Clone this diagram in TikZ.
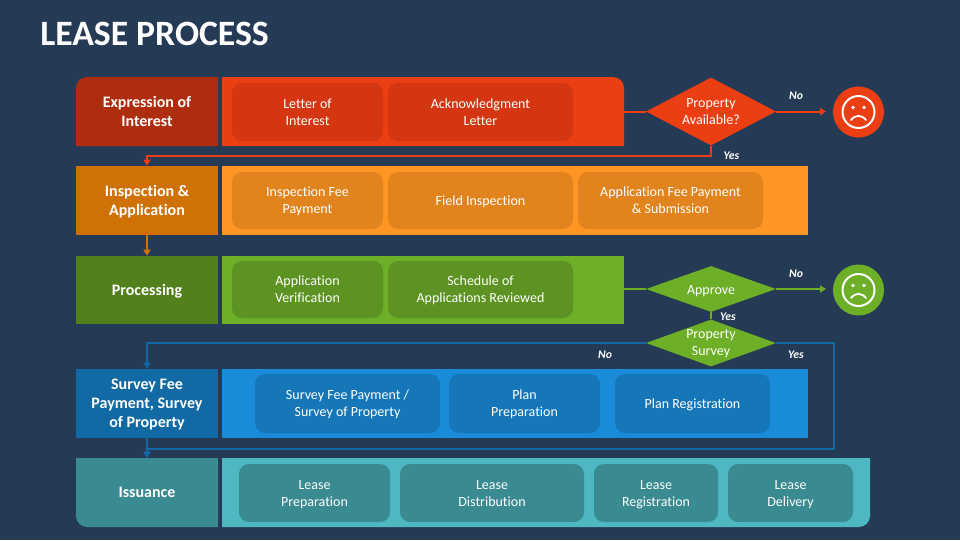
\documentclass[tikz,border=0pt]{standalone}
\usepackage{fontspec}
\setmainfont{Carlito}[Ligatures=NoCommon]
\usetikzlibrary{positioning,calc,arrows.meta,shapes.geometric}
\newdimen\unitpx
\unitpx=0.75pt
\definecolor{bgnavy}{HTML}{253A54}
\definecolor{redmain}{HTML}{EC3E13}
\definecolor{reddark}{HTML}{AE2D0E}
\definecolor{redin}{HTML}{D43611}
\definecolor{orgmain}{HTML}{FF9623}
\definecolor{orgdark}{HTML}{D07105}
\definecolor{orgin}{HTML}{E2841E}
\definecolor{grnmain}{HTML}{6DAF26}
\definecolor{grndark}{HTML}{52801C}
\definecolor{grnin}{HTML}{5C9322}
\definecolor{blumain}{HTML}{1A8BD8}
\definecolor{bludark}{HTML}{116AA3}
\definecolor{bluin}{HTML}{1577B8}
\definecolor{teamain}{HTML}{4DB8C2}
\definecolor{teadark}{HTML}{398A91}
\tikzset{
  manyline/.style={text depth=-0.8pt},
  lowline/.style={text depth=-2.3pt},
  oneline/.style={text height=10pt, text depth=3pt},
  head/.style={text=white, align=center, inner sep=0pt, minimum width=142\unitpx, minimum height=69\unitpx,
    font=\fontsize{12}{14.25}\selectfont\bfseries},
  inbox/.style={fill=#1, text=white, align=center, rounded corners=10\unitpx, inner sep=0pt,
    font=\fontsize{10.5}{12.75}\selectfont},
  decide/.style={diamond, aspect=1.9, fill=#1, text=white, align=center, inner sep=-8pt,
    minimum width=130\unitpx, font=\fontsize{10.5}{12.75}\selectfont},
  link/.style={draw=#1, line width=2\unitpx},
  arrowlink/.style={link=#1, -{Triangle[length=4.5pt,width=5.25pt]}},
  note/.style={text=white, inner sep=0pt, font=\fontsize{8.8}{10}\selectfont\bfseries\itshape},
  face/.style={circle, fill=#1, minimum size=51\unitpx, inner sep=0pt},
}
\newcommand{\sadface}[1]{%
  \draw[white, line width=2\unitpx] (#1) circle[radius=16];
  \fill[white] ($(#1)+(-5.5,-4.5)$) circle[radius=1.8];
  \fill[white] ($(#1)+(5.5,-4.5)$) circle[radius=1.8];
  \draw[white, line width=1.8\unitpx, line cap=round] ($(#1)+(-7.5,8)$) .. controls ($(#1)+(-3,2.5)$) and ($(#1)+(3,2.5)$) .. ($(#1)+(7.5,8)$);
}

\begin{document}
\begin{tikzpicture}[x=0.75pt, y=-0.75pt]
	\fill[bgnavy] (0,0) rectangle (960,540);
	\useasboundingbox (0,0) rectangle (960,540);

	\node[text=white, inner sep=0pt, anchor=west, font=\fontsize{26.75}{32}\selectfont\bfseries] (title) at (40,34) {LEASE PROCESS};

	% row bars
	\fill[reddark] (218,146) -- (76,146) -- (76,88) .. controls (76,82) and (81,77) .. (87,77) -- (218,77) -- cycle;
	\fill[redmain] (222,77) -- (613,77) .. controls (619,77) and (624,82) .. (624,88) -- (624,146) -- (222,146) -- cycle;
	\fill[orgdark] (76,166) rectangle (218,235);
	\fill[orgmain] (222,166) rectangle (808,235);
	\fill[grndark] (76,256) rectangle (218,324);
	\fill[grnmain] (222,256) rectangle (624,324);
	\fill[bludark] (76,369) rectangle (218,438);
	\fill[blumain] (222,369) rectangle (808,438);
	\fill[teadark] (218,458) -- (76,458) -- (76,516) .. controls (76,522) and (81,527) .. (87,527) -- (218,527) -- cycle;
	\fill[teamain] (222,527) -- (859,527) .. controls (865,527) and (870,522) .. (870,516) -- (870,458) -- (222,458) -- cycle;

	\node[head, manyline] (expr) at (147,111.5) {Expression of\\Interest};
	\node[head, manyline] (insp) at (147,200.5) {Inspection \&\\Application};
	\node[head, oneline, text height=11pt, minimum height=68\unitpx] (proc) at (147,290) {Processing};
	\node[head, lowline] (surv) at (147,403.5) {Survey Fee\\Payment, Survey\\of Property};
	\node[head, oneline] (issu) at (147,492.5) {Issuance};

	% boxes inside the bars
	\node[inbox=redin, manyline, minimum width=151\unitpx, minimum height=58\unitpx] (letter) at (307.5,112) {Letter of\\Interest};
	\node[inbox=redin, manyline, minimum width=185\unitpx, minimum height=58\unitpx] (ack) at (480.5,112) {Acknowledgment\\Letter};

	\node[inbox=orgin, manyline, minimum width=151\unitpx, minimum height=57\unitpx] (fee) at (307.5,200.5) {Inspection Fee\\Payment};
	\node[inbox=orgin, oneline, minimum width=185\unitpx, minimum height=57\unitpx] (field) at (480.5,200.5) {Field Inspection};
	\node[inbox=orgin, manyline, minimum width=185\unitpx, minimum height=57\unitpx] (appfee) at (670.5,200.5) {Application Fee Payment\\\& Submission};

	\node[inbox=grnin, lowline, minimum width=151\unitpx, minimum height=57\unitpx] (verif) at (307.5,289.5) {Application\\Verification};
	\node[inbox=grnin, lowline, minimum width=185\unitpx, minimum height=57\unitpx] (sched) at (480.5,289.5) {Schedule of\\Applications Reviewed};

	\node[inbox=bluin, lowline, minimum width=185\unitpx, minimum height=59\unitpx] (sfee) at (347.5,403.5) {Survey Fee Payment /\\Survey of Property};
	\node[inbox=bluin, lowline, minimum width=151\unitpx, minimum height=59\unitpx] (plan) at (524.5,403.5) {Plan\\Preparation};
	\node[inbox=bluin, oneline, minimum width=155\unitpx, minimum height=59\unitpx] (planreg) at (692.5,403.5) {Plan Registration};

	\node[inbox=teadark, manyline, minimum width=151\unitpx, minimum height=58\unitpx] (prep) at (314.5,493) {Lease\\Preparation};
	\node[inbox=teadark, manyline, minimum width=184\unitpx, minimum height=58\unitpx] (dist) at (492,493) {Lease\\Distribution};
	\node[inbox=teadark, manyline, minimum width=124\unitpx, minimum height=58\unitpx] (reg) at (656,493) {Lease\\Registration};
	\node[inbox=teadark, manyline, minimum width=125\unitpx, minimum height=58\unitpx] (deliv) at (790.5,493) {Lease\\Delivery};

	% decisions
	\node[decide=redmain, text depth=-4pt, minimum height=68\unitpx] (avail) at (711,111.5) {Property\\Available?};
	\node[decide=grnmain, text height=10.5pt, text depth=3pt, minimum height=46\unitpx, aspect=2.8] (appr) at (711,289) {Approve};
	\node[decide=grnmain, text depth=-3pt, minimum height=47\unitpx, aspect=2.8] (psurv) at (711,343) {Property\\Survey};

	\node[face=redmain] (bad) at (858.5,112) {};
	\node[face=grnmain] (good) at (858.5,290) {};
	\sadface{bad}
	\sadface{good}

	% connectors
	\coordinate (ackend) at (624,111.5);
	\coordinate (schedend) at (624,289);
	\coordinate (badin) at (826,111.5);
	\coordinate (goodin) at (826,289);
	\coordinate (sbend) at (834,343);
	\coordinate (sback) at (834,449);
	\coordinate (ymid) at (711,156);

	\draw[link=redmain] (ackend) -- (avail.west);
	\draw[arrowlink=redmain] (avail.south) -- (ymid) -| (insp.north);
	\draw[arrowlink=redmain] (avail.east) -- (badin);
	\draw[arrowlink=orgdark] (insp.south) -- (proc.north);

	\draw[link=grnmain] (schedend) -- (appr.west);
	\draw[arrowlink=grnmain] (appr.east) -- (goodin);
	\draw[link=grnmain] (appr.south) -- (psurv.north);

	\draw[arrowlink=bludark] (psurv.west) -| (surv.north);
	\draw[arrowlink=bludark] (surv.south) -- (issu.north);
	\draw[arrowlink=bludark] (psurv.east) -- (sbend) -- (sback) -| (issu.north);

	\node[note] (lno1) at (796,96) {No};
	\node[note] (lyes1) at (731.5,156) {Yes};
	\node[note] (lno2) at (796,274) {No};
	\node[note] (lyes2) at (728,317) {Yes};
	\node[note] (lno3) at (605,355) {No};
	\node[note] (lyes3) at (796,355) {Yes};
\end{tikzpicture}
\end{document}
